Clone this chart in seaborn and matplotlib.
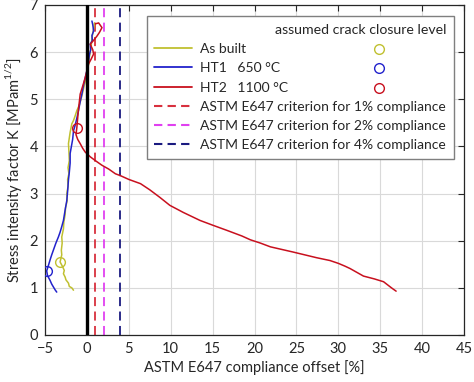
import numpy as np
import pandas as pd
import matplotlib
matplotlib.use("Agg")
import matplotlib.pyplot as plt
import seaborn as sns
from matplotlib.lines import Line2D

# ---- data ----
as_built_x = [0.9, 0.8, 0.6, 0.5, 0.3, 0.2, 0.0, -0.3, -0.5, -0.7, -0.9, -1.2, -1.4, -1.6, -1.8,
              -2.0, -2.2, -2.15, -2.1, -2.25, -2.15, -2.3, -2.25, -2.4, -2.35, -2.55, -2.6, -2.75,
              -2.8, -3.0, -2.95, -3.05, -3.0, -3.2, -2.9, -2.7, -2.8, -2.6, -2.5, -2.2, -2.1, -1.8, -1.6]
as_built_y = [6.62, 6.5, 6.3, 6.1, 5.9, 5.75, 5.5, 5.3, 5.15, 5.0, 4.88, 4.76, 4.65, 4.55, 4.48,
              4.3, 4.06, 3.9, 3.7, 3.55, 3.42, 3.3, 3.15, 3.0, 2.85, 2.7, 2.55, 2.4,
              2.25, 2.08, 1.95, 1.8, 1.7, 1.55, 1.45, 1.37, 1.3, 1.23, 1.17, 1.1, 1.03, 1.0, 0.95]

ht1_x = [0.6, 0.7, 0.8, 0.6, 0.65, 0.4, 0.45, 0.3, 0.2, 0.05, -0.2, -0.4, -0.6, -0.8, -1.0, -1.2,
         -1.4, -1.6, -1.7, -1.85, -2.0, -2.0, -2.1, -2.2, -2.3, -2.4, -2.6, -2.8, -3.0, -3.2, -3.4,
         -3.7, -4.0, -4.2, -4.4, -4.6, -4.8, -4.7, -4.4, -4.2, -4.0, -3.8, -3.6]
ht1_y = [6.66, 6.58, 6.45, 6.35, 6.25, 6.17, 6.05, 5.95, 5.81, 5.65, 5.46, 5.3, 5.11, 4.95, 4.76, 4.6,
         4.45, 4.33, 4.15, 4.0, 3.85, 3.65, 3.45, 3.29, 3.05, 2.85, 2.65, 2.43, 2.3, 2.18, 2.08,
         1.95, 1.8, 1.7, 1.59, 1.47, 1.36, 1.26, 1.16, 1.08, 1.02, 0.96, 0.91]

ht2_x = [1.0, 1.4, 1.8, 1.5, 1.2, 0.8, 0.4, 0.7, 0.8, 0.5, 0.2, 0.0, -0.2, -0.5, -0.8, -0.9, -1.0,
         -1.1, -1.2, -1.3, -1.1, -0.8, -0.5, -0.2, 0.4, 1.0, 1.8, 2.6, 3.4, 4.0, 5.0, 6.4, 7.5,
         8.7, 9.9, 11.5, 13.5, 15.0, 16.7, 18.5, 19.5, 20.7, 21.9, 24.6, 27.4, 29.0, 30.0, 30.8,
         31.4, 32.2, 33.0, 34.3, 35.4, 36.2, 36.5, 36.9]
ht2_y = [6.6, 6.62, 6.52, 6.42, 6.34, 6.25, 6.17, 6.05, 5.96, 5.85, 5.75, 5.6, 5.46, 5.28, 5.11, 4.95,
         4.8, 4.6, 4.4, 4.25, 4.15, 4.06, 3.96, 3.88, 3.78, 3.7, 3.6, 3.52, 3.42, 3.38, 3.3, 3.21,
         3.08, 2.92, 2.75, 2.6, 2.43, 2.33, 2.22, 2.1, 2.02, 1.95, 1.87, 1.76, 1.64, 1.58, 1.52,
         1.46, 1.41, 1.33, 1.25, 1.19, 1.13, 1.02, 0.98, 0.93]

series_labels = ["As built", "HT1   650 °C", "HT2   1100 °C"]
closure_x = [-3.2, -4.8, -1.2]
closure_y = [1.55, 1.36, 4.4]

criteria_x = [1, 2, 4]
criteria_labels = ["ASTM E647 criterion for 1% compliance",
                   "ASTM E647 criterion for 2% compliance",
                   "ASTM E647 criterion for 4% compliance"]

x_ticks = [-5, 0, 5, 10, 15, 20, 25, 30, 35, 40, 45]
y_ticks = [0, 1, 2, 3, 4, 5, 6, 7]

# ---- styling ----
sns.set_theme(style="white")
plt.rcParams['font.family'] = ['Lato', 'DejaVu Sans']
plt.rcParams['mathtext.fontset'] = 'custom'
plt.rcParams['mathtext.rm'] = 'Lato'

line_colors = ["#c0c030", "#2222cc", "#c8101e"]
crit_colors = ["#d8303e", "#e040f0", "#1a1a80"]

fig = plt.figure(figsize=(4.74, 3.82), dpi=100)
ax = fig.add_axes([45/474, 47/382, 419/474, 330/382])

frames = []
for lab, xs, ys in zip(series_labels, [as_built_x, ht1_x, ht2_x], [as_built_y, ht1_y, ht2_y]):
    frames.append(pd.DataFrame({"offset": xs, "K": ys, "series": lab}))
df = pd.concat(frames, ignore_index=True)

for lab, col in zip(series_labels, line_colors):
    sub = df[df["series"] == lab]
    sns.lineplot(data=sub, x="offset", y="K", sort=False, estimator=None, color=col,
                 linewidth=1.1, ax=ax, legend=False, zorder=3)

ax.axvline(0, color="black", linewidth=2.4, zorder=4)
for xv, col in zip(criteria_x, crit_colors):
    ax.axvline(xv, color=col, linewidth=1.3, linestyle=(0, (5, 3)), zorder=2)

for xv, yv, col in zip(closure_x, closure_y, line_colors):
    ax.plot(xv, yv, marker="o", markersize=7, markerfacecolor="none",
            markeredgecolor=col, markeredgewidth=1.0, linestyle="none", zorder=5)

ax.set_xlim(-5, 45)
ax.set_ylim(0, 7)
ax.set_xticks(x_ticks)
ax.set_yticks(y_ticks)
ax.grid(True, color="#d9d9d9", linewidth=0.8)
ax.set_axisbelow(True)
ax.tick_params(direction="in", length=4, width=0.8, top=True, right=True,
               labelsize=10.5, colors="#262626", pad=5)
for sp in ax.spines.values():
    sp.set_color("#262626")
    sp.set_linewidth(0.9)

ax.set_xlabel("ASTM E647 compliance offset [%]", fontsize=10.5, color="#262626", labelpad=3)
ax.set_ylabel("Stress intensity factor K [MPam$^{1/2}$]", fontsize=10.5, color="#262626", labelpad=4)

handles = [Line2D([], [], color=c, linewidth=1.3) for c in line_colors]
handles += [Line2D([], [], color=c, linewidth=1.5, linestyle=(0, (4, 2.5))) for c in crit_colors]
labels = series_labels + criteria_labels
leg = ax.legend(handles, labels, title="assumed crack closure level", loc="upper left",
                bbox_to_anchor=(0.243, 0.966), fontsize=10, title_fontsize=10.2,
                frameon=True, fancybox=False, edgecolor="#7f7f7f", framealpha=1,
                handlelength=2.7, handletextpad=0.6, labelspacing=0.52, borderpad=0.55,
                alignment="right", borderaxespad=0)
leg.get_frame().set_linewidth(1.0)
leg.set_zorder(6)

fig.canvas.draw()
inv = ax.transAxes.inverted()
mx = (379 - 45) / 419
for t, col in zip(leg.get_texts()[:3], line_colors):
    bb = t.get_window_extent()
    yc = (bb.y0 + bb.y1) / 2
    _, ya = inv.transform((0, yc))
    ax.plot(mx, ya, marker="o", markersize=7, markerfacecolor="none", markeredgecolor=col,
            markeredgewidth=1.0, transform=ax.transAxes, zorder=7, clip_on=False)

fig.savefig("out.png", dpi=100)
